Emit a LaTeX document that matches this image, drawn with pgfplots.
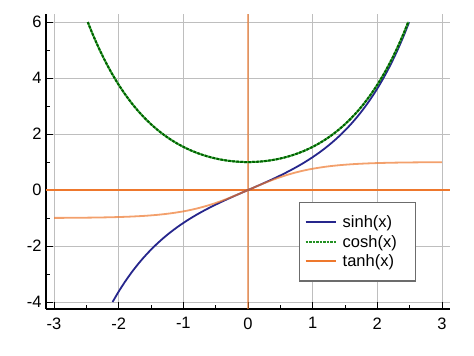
\documentclass[border=0pt]{standalone}
\usepackage{fontspec}
\setmainfont{Liberation Sans}
\usepackage{pgfplots}
\pgfplotsset{compat=1.18}
\definecolor{sinhc}{RGB}{38,38,140}
\definecolor{coshdark}{RGB}{0,95,0}
\definecolor{coshlight}{RGB}{60,170,60}
\definecolor{coshleg}{RGB}{35,145,35}
\definecolor{tanhc}{RGB}{238,120,45}
\definecolor{gridc}{RGB}{190,190,190}
\newcommand{\legtext}[1]{\makebox[70pt][l]{\hspace*{4pt}#1}}
\begin{document}
\begin{tikzpicture}
\begin{axis}[
  name=ax,
  scale only axis,
  width=404pt, height=295pt,
  xmin=-3.124, xmax=3.124,
  ymin=-4.25, ymax=6.29,
  axis x line=bottom, axis y line=left,
  axis line style={-, line width=1.5pt, black},
  xtick={-3,-2,-1,0,1,2,3},
  ytick={-4,-2,0,2,4,6},
  minor xtick={-2.5,-1.5,-0.5,0.5,1.5,2.5},
  minor ytick={-3,-1,1,3,5},
  tick align=inside,
  major tick length=7pt,
  minor tick length=4pt,
  tick style={black, line width=0.6pt},
  grid=major,
  major grid style={gridc, line width=0.7pt},
  minor grid style={draw=none},
  /pgf/number format/assume math mode=true,
  ticklabel style={font=\fontsize{16.5}{19}\selectfont},
  xticklabel style={yshift=-5pt},
  yticklabel style={xshift=-1pt},
  legend style={at={(axis cs:0.79,-0.43)}, anchor=north west,
    draw=gray!85!black, line width=1.2pt, inner xsep=5pt, inner ysep=11pt,
    font=\fontsize{16.5}{19}\selectfont, row sep=2pt,
    cells={anchor=west}},
  legend cell align=left,
  legend image code/.code={\draw[#1] (0pt,0pt) -- (30pt,0pt);},
  clip=true,
]
% coordinate lines
\addplot[tanhc, line width=1.2pt, forget plot] coordinates {(-3.124,0) (3.124,0)};
\addplot[tanhc, opacity=0.6, line width=1.2pt, forget plot] coordinates {(0,-4.25) (0,6.29)};
% sinh
\addplot[sinhc, line width=1.8pt, smooth, forget plot] coordinates {
(-2.0947,-4.0) (-2.0,-3.626860) (-1.9,-3.268163) (-1.8,-2.942174) (-1.7,-2.645632)
(-1.6,-2.375568) (-1.5,-2.129279) (-1.4,-1.904302) (-1.3,-1.698382) (-1.2,-1.509461)
(-1.1,-1.335647) (-1.0,-1.175201) (-0.9,-1.026517) (-0.8,-0.888106) (-0.7,-0.758584)
(-0.6,-0.636654) (-0.5,-0.521095) (-0.4,-0.410752) (-0.3,-0.304520) (-0.2,-0.201336)
(-0.1,-0.100167) (0,0) (0.1,0.100167) (0.2,0.201336) (0.3,0.304520) (0.4,0.410752)
(0.5,0.521095) (0.6,0.636654) (0.7,0.758584) (0.8,0.888106) (0.9,1.026517)
(1.0,1.175201) (1.1,1.335647) (1.2,1.509461) (1.3,1.698382) (1.4,1.904302)
(1.5,2.129279) (1.6,2.375568) (1.7,2.645632) (1.8,2.942174) (1.9,3.268163)
(2.0,3.626860) (2.1,4.021857) (2.2,4.457105) (2.3,4.936962) (2.4,5.466229) (2.4918,6.0)
};
% cosh: light base under dark dashes
\pgfplotstableread{
x y
-2.4779 6.0
-2.4 5.556947
-2.3 5.037221
-2.2 4.567908
-2.1 4.144313
-2.0 3.762196
-1.9 3.417732
-1.8 3.107473
-1.7 2.828315
-1.6 2.577464
-1.5 2.352410
-1.4 2.150898
-1.3 1.970914
-1.2 1.810656
-1.1 1.668519
-1.0 1.543081
-0.9 1.433086
-0.8 1.337435
-0.7 1.255169
-0.6 1.185465
-0.5 1.127626
-0.4 1.081072
-0.3 1.045339
-0.2 1.020067
-0.1 1.005004
0 1.0
0.1 1.005004
0.2 1.020067
0.3 1.045339
0.4 1.081072
0.5 1.127626
0.6 1.185465
0.7 1.255169
0.8 1.337435
0.9 1.433086
1.0 1.543081
1.1 1.668519
1.2 1.810656
1.3 1.970914
1.4 2.150898
1.5 2.352410
1.6 2.577464
1.7 2.828315
1.8 3.107473
1.9 3.417732
2.0 3.762196
2.1 4.144313
2.2 4.567908
2.3 5.037221
2.4 5.556947
2.4779 6.0
}\coshdata
\addplot[coshlight, line width=2pt, smooth, forget plot] table[x=x,y=y] {\coshdata};
\addplot[coshdark, line width=2pt, smooth, dash pattern=on 2.5pt off 1.5pt, forget plot] table[x=x,y=y] {\coshdata};
% tanh
\addplot[tanhc, line width=1.8pt, smooth, opacity=0.7, forget plot] coordinates {
(-3.0,-0.995055) (-2.8,-0.992632) (-2.6,-0.989027) (-2.4,-0.983675) (-2.2,-0.975743)
(-2.0,-0.964028) (-1.8,-0.946806) (-1.6,-0.921669) (-1.4,-0.885352) (-1.2,-0.833655)
(-1.0,-0.761594) (-0.9,-0.716298) (-0.8,-0.664037) (-0.7,-0.604368) (-0.6,-0.537050)
(-0.5,-0.462117) (-0.4,-0.379949) (-0.3,-0.291313) (-0.2,-0.197375) (-0.1,-0.099668)
(0,0) (0.1,0.099668) (0.2,0.197375) (0.3,0.291313) (0.4,0.379949) (0.5,0.462117)
(0.6,0.537050) (0.7,0.604368) (0.8,0.664037) (0.9,0.716298) (1.0,0.761594)
(1.2,0.833655) (1.4,0.885352) (1.6,0.921669) (1.8,0.946806) (2.0,0.964028)
(2.2,0.975743) (2.4,0.983675) (2.6,0.989027) (2.8,0.992632) (3.0,0.995055)
};
\addlegendimage{sinhc, line width=2pt}
\addlegendentry{\legtext{sinh(x)}}
\addlegendimage{coshleg, line width=2pt, dash pattern=on 2.5pt off 1pt}
\addlegendentry{\legtext{cosh(x)}}
\addlegendimage{tanhc, line width=2pt}
\addlegendentry{\legtext{tanh(x)}}
\end{axis}
\path ([shift={(-46pt,-46pt)}]ax.south west) rectangle ([shift={(24pt,14pt)}]ax.north east);
\end{tikzpicture}
\end{document}
